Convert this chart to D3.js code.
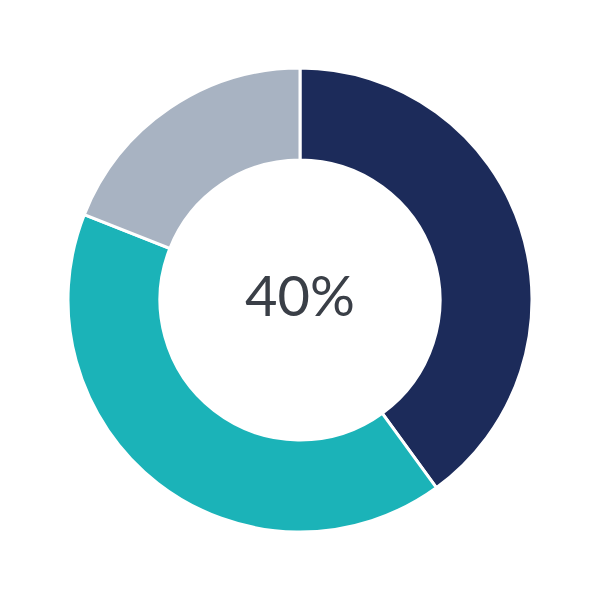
<!DOCTYPE html>
<html>
<head>
<meta charset="utf-8">
<script src="https://cdn.jsdelivr.net/npm/d3@7"></script>
<style>
body { margin: 0; background: #fff; }
</style>
</head>
<body>
<div id="chart"></div>
<script>
var width = 600, height = 600;
var outerR = 232, innerR = 140;

// slice values (percent), clockwise from 12 o'clock
const labels = ["A", "B", "C"]
const values = [40, 41, 19]
const colors = ["#1c2b5a", "#1bb3b8", "#a8b3c2"]
const centerLabel = "40%"

var svg = d3.select("#chart")
  .append("svg")
  .attr("width", width)
  .attr("height", height)
  .append("g")
  .attr("transform", "translate(" + 300 + "," + 300 + ")");

var pie = d3.pie().sort(null).value(function(d) { return d; });
var arc = d3.arc().innerRadius(innerR).outerRadius(outerR);

svg.selectAll("path")
  .data(pie(values))
  .enter()
  .append("path")
  .attr("d", arc)
  .attr("fill", function(d, i) { return colors[i]; })
  .attr("stroke", "#fff")
  .attr("stroke-width", 3);

svg.append("text")
  .attr("text-anchor", "middle")
  .attr("y", 16)
  .style("font-family", "Lato, 'Open Sans', sans-serif")
  .style("font-size", "56px")
  .style("fill", "#3a3f47")
  .text(centerLabel);
</script>
</body>
</html>
